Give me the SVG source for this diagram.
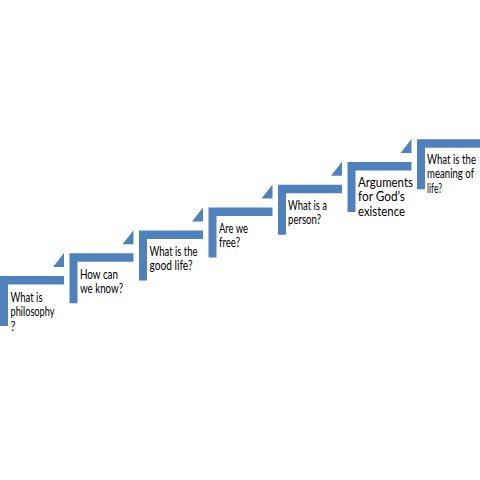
<svg xmlns="http://www.w3.org/2000/svg" width="480" height="480" viewBox="0 0 480 480">
<style>
.step{fill:#4F81BD}
.tri{fill:#4F81BD}
.lbl{font-family:Lato,"Open Sans","Liberation Sans",sans-serif;font-size:12.5px;fill:#000}
</style>
<defs>
<path id="corner" d="M0 0 H64 V8.5 H8 V50 H0 Z"/>
<polygon id="arrow" points="53,-9 64,-9 64,-23"/>
</defs>
<rect width="480" height="480" fill="#fff"/>
<g id="step1">
<use href="#corner" class="step" transform="translate(0,276)"/>
<use href="#arrow" class="tri" transform="translate(0,276)"/>
<text class="lbl" x="10.5" y="301.5" textLength="32" lengthAdjust="spacingAndGlyphs">What is</text>
<text class="lbl" x="10.5" y="316" textLength="44" lengthAdjust="spacingAndGlyphs">philosophy</text>
<text class="lbl" x="10.5" y="330.5" textLength="5" lengthAdjust="spacingAndGlyphs">?</text>
</g>
<g id="step2">
<use href="#corner" class="step" transform="translate(69.5,253.2)"/>
<use href="#arrow" class="tri" transform="translate(69.5,253.2)"/>
<text class="lbl" x="80" y="278.5" textLength="38" lengthAdjust="spacingAndGlyphs">How can</text>
<text class="lbl" x="80" y="293" textLength="43" lengthAdjust="spacingAndGlyphs">we know?</text>
</g>
<g id="step3">
<use href="#corner" class="step" transform="translate(139,230.4)"/>
<use href="#arrow" class="tri" transform="translate(139,230.4)"/>
<text class="lbl" x="149.5" y="255.6" textLength="48" lengthAdjust="spacingAndGlyphs">What is the</text>
<text class="lbl" x="149.5" y="270.1" textLength="43" lengthAdjust="spacingAndGlyphs">good life?</text>
</g>
<g id="step4">
<use href="#corner" class="step" transform="translate(208.5,207.6)"/>
<use href="#arrow" class="tri" transform="translate(208.5,207.6)"/>
<text class="lbl" x="219" y="232.8" textLength="29" lengthAdjust="spacingAndGlyphs">Are we</text>
<text class="lbl" x="219" y="247.3" textLength="21" lengthAdjust="spacingAndGlyphs">free?</text>
</g>
<g id="step5">
<use href="#corner" class="step" transform="translate(278,184.8)"/>
<use href="#arrow" class="tri" transform="translate(278,184.8)"/>
<text class="lbl" x="288" y="209.5" textLength="39" lengthAdjust="spacingAndGlyphs">What is a</text>
<text class="lbl" x="288" y="223.5" textLength="33" lengthAdjust="spacingAndGlyphs">person?</text>
</g>
<g id="step6">
<use href="#corner" class="step" transform="translate(347.5,162)"/>
<use href="#arrow" class="tri" transform="translate(347.5,162)"/>
<text class="lbl" x="358" y="186.5" textLength="55" lengthAdjust="spacingAndGlyphs">Arguments</text>
<text class="lbl" x="358" y="201" textLength="47" lengthAdjust="spacingAndGlyphs">for God’s</text>
<text class="lbl" x="358" y="215.5" textLength="47" lengthAdjust="spacingAndGlyphs">existence</text>
</g>
<g id="step7">
<use href="#corner" class="step" transform="translate(417,139.2)"/>
<text class="lbl" x="427" y="163.5" textLength="49" lengthAdjust="spacingAndGlyphs">What is the</text>
<text class="lbl" x="427" y="178" textLength="47" lengthAdjust="spacingAndGlyphs">meaning of</text>
<text class="lbl" x="427" y="192.5" textLength="15" lengthAdjust="spacingAndGlyphs">life?</text>
</g>
<g id="connectors"/>
</svg>
